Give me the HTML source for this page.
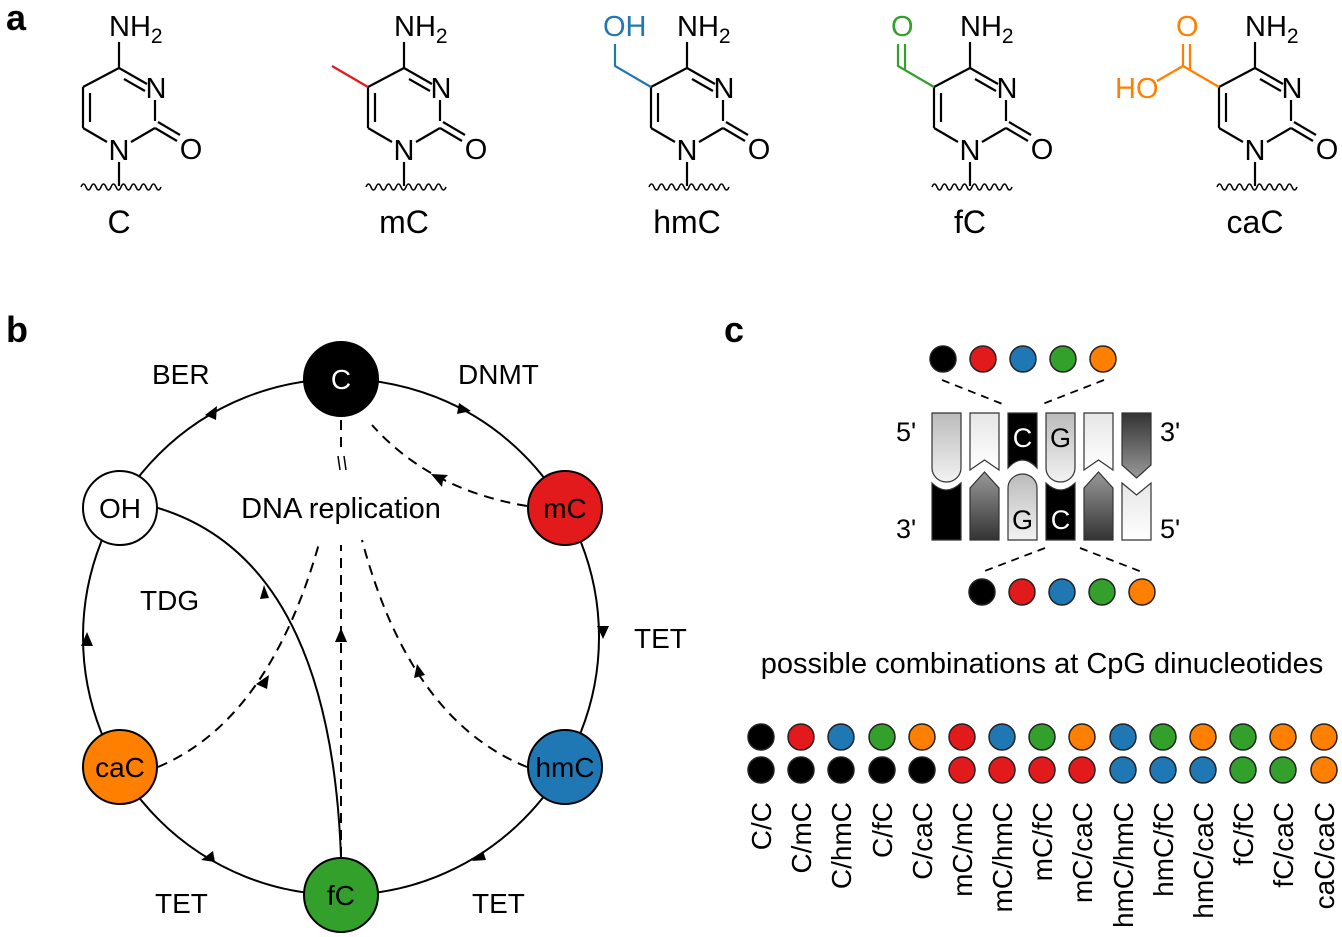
<!DOCTYPE html>
<html><head><meta charset="utf-8"><style>
html,body{margin:0;padding:0;background:#fff;}
svg{display:block;}
text{font-family:"Liberation Sans",Arial,sans-serif;}
</style></head><body>
<svg width="1342" height="937" viewBox="0 0 1342 937" xmlns="http://www.w3.org/2000/svg">
<defs>
<g id="ring" stroke="#000" stroke-width="2.2" fill="none">
  <line x1="0" y1="42" x2="0" y2="68"/>
  <line x1="0" y1="68" x2="28" y2="84"/>
  <line x1="5" y1="79" x2="26" y2="91"/>
  <line x1="36" y1="100" x2="36" y2="121"/>
  <line x1="36" y1="128" x2="58" y2="141"/>
  <line x1="39" y1="122" x2="61" y2="135"/>
  <line x1="36" y1="128" x2="12" y2="142"/>
  <line x1="-12" y1="142" x2="-36" y2="128"/>
  <line x1="-36" y1="128" x2="-36" y2="87"/>
  <line x1="-29" y1="122" x2="-29" y2="93"/>
  <line x1="-36" y1="87" x2="0" y2="68"/>
  <line x1="0" y1="162" x2="0" y2="186"/>
  <path d="M-38 187 q2.5 -6 5 0 q2.5 6 5 0 q2.5 -6 5 0 q2.5 6 5 0 q2.5 -6 5 0 q2.5 6 5 0 q2.5 -6 5 0 q2.5 6 5 0 q2.5 -6 5 0 q2.5 6 5 0 q2.5 -6 5 0 q2.5 6 5 0 q2.5 -6 5 0 q2.5 6 5 0 q2.5 -6 5 0 q2.5 6 5 0" stroke-width="1.6"/>
</g>
<g id="ringtext" font-size="29" fill="#000">
  <text x="-10" y="36">NH<tspan font-size="21" dy="7">2</tspan></text>
  <text x="37" y="98" text-anchor="middle">N</text>
  <text x="0" y="160" text-anchor="middle">N</text>
  <text x="72" y="159" text-anchor="middle">O</text>
</g>
<linearGradient id="gl" x1="0" y1="0" x2="0" y2="1"><stop offset="0" stop-color="#bbb"/><stop offset="1" stop-color="#f2f2f2"/></linearGradient>
<linearGradient id="gw" x1="0" y1="0" x2="0" y2="1"><stop offset="0" stop-color="#e6e6e6"/><stop offset="1" stop-color="#fff"/></linearGradient>
<linearGradient id="gd" x1="0" y1="0" x2="0" y2="1"><stop offset="0" stop-color="#999"/><stop offset="1" stop-color="#333"/></linearGradient>
<linearGradient id="gdt" x1="0" y1="0" x2="0" y2="1"><stop offset="0" stop-color="#333"/><stop offset="1" stop-color="#999"/></linearGradient>
</defs>

<!-- Panel a -->
<text x="6" y="30" font-size="36" font-weight="bold">a</text>
<g transform="translate(119,0)"><use href="#ring"/><use href="#ringtext"/><text x="0" y="233" font-size="32" text-anchor="middle">C</text></g>
<g transform="translate(404,0)"><use href="#ring"/><use href="#ringtext"/><text x="0" y="233" font-size="32" text-anchor="middle">mC</text>
  <line x1="-36" y1="87" x2="-72" y2="66" stroke="#e31a1c" stroke-width="2.2"/></g>
<g transform="translate(687,0)"><use href="#ring"/><use href="#ringtext"/><text x="0" y="233" font-size="32" text-anchor="middle">hmC</text>
  <path d="M-36 87 L-72 66 L-72 44" stroke="#1f78b4" stroke-width="2.2" fill="none"/>
  <text x="-84" y="36" font-size="29" fill="#1f78b4">OH</text></g>
<g transform="translate(970,0)"><use href="#ring"/><use href="#ringtext"/><text x="0" y="233" font-size="32" text-anchor="middle">fC</text>
  <path d="M-36 87 L-72 66 L-72 44 M-65 70 L-65 44" stroke="#33a02c" stroke-width="2.2" fill="none"/>
  <text x="-79" y="36" font-size="29" fill="#33a02c">O</text></g>
<g transform="translate(1255,0)"><use href="#ring"/><use href="#ringtext"/><text x="0" y="233" font-size="32" text-anchor="middle">caC</text>
  <path d="M-36 87 L-72 66 L-72 44 M-65 70 L-65 44 M-72 66 L-98 81" stroke="#ff7f00" stroke-width="2.2" fill="none"/>
  <text x="-79" y="36" font-size="29" fill="#ff7f00">O</text>
  <text x="-140" y="98" font-size="29" fill="#ff7f00">HO</text></g>

<!-- Panel b -->
<text x="6" y="342" font-size="36" font-weight="bold">b</text>
<circle cx="341" cy="637" r="258" fill="none" stroke="#000" stroke-width="2"/>
<g fill="#000">
<path d="M459 403 l12 8 l-14 3 z"/>
<path d="M597 626 l6 13 l6 -13 z"/>
<path d="M483 851 l-11 10 l14 -1 z"/>
<path d="M213 851 l-12 9 l14 2 z"/>
<path d="M81 646 l6 -14 l6 14 z"/>
<path d="M205 415 l12 -9 l-1 14 z"/>
</g>
<!-- dashed lines -->
<g stroke="#000" stroke-width="2" fill="none" stroke-dasharray="10,7">
<path d="M527 506 Q430 490 372 425"/>
<line x1="341" y1="420" x2="341" y2="452"/>
<path d="M158 767 Q270 720 320 540"/>
<line x1="341" y1="857" x2="341" y2="545"/>
<path d="M527 767 Q410 720 362 540"/>
</g>
<line x1="338" y1="456" x2="340" y2="470" stroke="#000" stroke-width="1.5"/>
<line x1="344" y1="456" x2="346" y2="470" stroke="#000" stroke-width="1.5"/>
<g fill="#000">
<path d="M431 474 L448 475 L443 480 L442 487 z"/>
<path d="M335 642 l6 -14 l6 14 z"/>
<path d="M256 684 l13 -9 l-2 14 z"/>
<path d="M414 678 l3 -14 l8 11 z"/>
<path d="M269 598 l-5 -13 l-4 14 z"/>
</g>
<path d="M158 508 Q330 560 341 857" stroke="#000" stroke-width="2" fill="none"/>
<text x="341" y="518" font-size="29" text-anchor="middle">DNA replication</text>
<g font-size="28">
<text x="152" y="384">BER</text>
<text x="458" y="384">DNMT</text>
<text x="634" y="648">TET</text>
<text x="472" y="913">TET</text>
<text x="155" y="913">TET</text>
<text x="140" y="610">TDG</text>
</g>
<g stroke="#000" stroke-width="2">
<circle cx="341" cy="379" r="37" fill="#000"/>
<circle cx="565" cy="508" r="37" fill="#e31a1c"/>
<circle cx="565" cy="767" r="37" fill="#1f78b4"/>
<circle cx="341" cy="895" r="37" fill="#33a02c"/>
<circle cx="120" cy="767" r="37" fill="#ff7f00"/>
<circle cx="120" cy="508" r="37" fill="#fff"/>
</g>
<g font-size="28" text-anchor="middle">
<text x="341" y="389" fill="#fff">C</text>
<text x="565" y="518">mC</text>
<text x="565" y="777">hmC</text>
<text x="341" y="905">fC</text>
<text x="120" y="777">caC</text>
<text x="120" y="518">OH</text>
</g>

<!-- Panel c -->
<text x="724" y="342" font-size="36" font-weight="bold">c</text>
<g stroke="#222" stroke-width="1.5">
<circle cx="943" cy="359" r="13" fill="#000"/>
<circle cx="983" cy="359" r="13" fill="#e31a1c"/>
<circle cx="1023" cy="359" r="13" fill="#1f78b4"/>
<circle cx="1063" cy="359" r="13" fill="#33a02c"/>
<circle cx="1103" cy="359" r="13" fill="#ff7f00"/>
<circle cx="982" cy="592" r="13" fill="#000"/>
<circle cx="1022" cy="592" r="13" fill="#e31a1c"/>
<circle cx="1062" cy="592" r="13" fill="#1f78b4"/>
<circle cx="1102" cy="592" r="13" fill="#33a02c"/>
<circle cx="1142" cy="592" r="13" fill="#ff7f00"/>
</g>
<g stroke="#000" stroke-width="1.8" stroke-dasharray="8,6">
<line x1="942" y1="380" x2="1005" y2="405"/>
<line x1="1104" y1="380" x2="1040" y2="405"/>
<line x1="1045" y1="548" x2="982" y2="572"/>
<line x1="1080" y1="548" x2="1142" y2="572"/>
</g>
<g stroke="#333" stroke-width="1.2">
<path d="M932 413 H961 V468 A14.5 14 0 0 1 932 468 Z" fill="url(#gl)"/>
<path d="M932 483 Q946 497 961 483 V540 H932 Z" fill="#000"/>
<path d="M970 413 H999 V470 L984.5 460 L970 470 Z" fill="url(#gw)"/>
<path d="M970 488 L984.5 472 L999 488 V540 H970 Z" fill="url(#gd)"/>
<path d="M1008 413 H1037 V468 Q1022.5 452 1008 468 Z" fill="#000"/>
<path d="M1008 488 A14.5 14 0 0 1 1037 488 V540 H1008 Z" fill="url(#gl)"/>
<path d="M1046 413 H1075 V468 A14.5 14 0 0 1 1046 468 Z" fill="url(#gl)"/>
<path d="M1046 483 Q1060.5 497 1075 483 V540 H1046 Z" fill="#000"/>
<path d="M1084 413 H1113 V470 L1098.5 460 L1084 470 Z" fill="url(#gw)"/>
<path d="M1084 488 L1098.5 472 L1113 488 V540 H1084 Z" fill="url(#gd)"/>
<path d="M1122 413 H1151 V465 L1136.5 478 L1122 465 Z" fill="url(#gdt)"/>
<path d="M1122 483 L1136.5 495 L1151 483 V540 H1122 Z" fill="url(#gw)"/>
</g>
<g font-size="27">
<text x="1022.5" y="447" fill="#fff" text-anchor="middle">C</text>
<text x="1060.5" y="447" text-anchor="middle">G</text>
<text x="1022.5" y="529" text-anchor="middle">G</text>
<text x="1060.5" y="529" fill="#fff" text-anchor="middle">C</text>
<text x="896" y="441">5'</text>
<text x="1160" y="441">3'</text>
<text x="896" y="538">3'</text>
<text x="1160" y="538">5'</text>
</g>
<text x="1042" y="673" font-size="29" text-anchor="middle">possible combinations at CpG dinucleotides</text>

<g stroke="#222" stroke-width="1.5">
<circle cx="761" cy="737" r="13" fill="#000"/><circle cx="761" cy="770" r="13" fill="#000"/>
<circle cx="801" cy="737" r="13" fill="#e31a1c"/><circle cx="801" cy="770" r="13" fill="#000"/>
<circle cx="841" cy="737" r="13" fill="#1f78b4"/><circle cx="841" cy="770" r="13" fill="#000"/>
<circle cx="882" cy="737" r="13" fill="#33a02c"/><circle cx="882" cy="770" r="13" fill="#000"/>
<circle cx="922" cy="737" r="13" fill="#ff7f00"/><circle cx="922" cy="770" r="13" fill="#000"/>
<circle cx="962" cy="737" r="13" fill="#e31a1c"/><circle cx="962" cy="770" r="13" fill="#e31a1c"/>
<circle cx="1002" cy="737" r="13" fill="#1f78b4"/><circle cx="1002" cy="770" r="13" fill="#e31a1c"/>
<circle cx="1042" cy="737" r="13" fill="#33a02c"/><circle cx="1042" cy="770" r="13" fill="#e31a1c"/>
<circle cx="1082" cy="737" r="13" fill="#ff7f00"/><circle cx="1082" cy="770" r="13" fill="#e31a1c"/>
<circle cx="1123" cy="737" r="13" fill="#1f78b4"/><circle cx="1123" cy="770" r="13" fill="#1f78b4"/>
<circle cx="1163" cy="737" r="13" fill="#33a02c"/><circle cx="1163" cy="770" r="13" fill="#1f78b4"/>
<circle cx="1203" cy="737" r="13" fill="#ff7f00"/><circle cx="1203" cy="770" r="13" fill="#1f78b4"/>
<circle cx="1243" cy="737" r="13" fill="#33a02c"/><circle cx="1243" cy="770" r="13" fill="#33a02c"/>
<circle cx="1283" cy="737" r="13" fill="#ff7f00"/><circle cx="1283" cy="770" r="13" fill="#33a02c"/>
<circle cx="1324" cy="737" r="13" fill="#ff7f00"/><circle cx="1324" cy="770" r="13" fill="#ff7f00"/>
</g>
<g font-size="28" text-anchor="end">
<text transform="translate(771,802) rotate(-90)">C/C</text>
<text transform="translate(811,802) rotate(-90)">C/mC</text>
<text transform="translate(851,802) rotate(-90)">C/hmC</text>
<text transform="translate(892,802) rotate(-90)">C/fC</text>
<text transform="translate(932,802) rotate(-90)">C/caC</text>
<text transform="translate(972,802) rotate(-90)">mC/mC</text>
<text transform="translate(1012,802) rotate(-90)">mC/hmC</text>
<text transform="translate(1052,802) rotate(-90)">mC/fC</text>
<text transform="translate(1092,802) rotate(-90)">mC/caC</text>
<text transform="translate(1133,802) rotate(-90)">hmC/hmC</text>
<text transform="translate(1173,802) rotate(-90)">hmC/fC</text>
<text transform="translate(1213,802) rotate(-90)">hmC/caC</text>
<text transform="translate(1253,802) rotate(-90)">fC/fC</text>
<text transform="translate(1293,802) rotate(-90)">fC/caC</text>
<text transform="translate(1334,802) rotate(-90)">caC/caC</text>
</g>
</svg>
</body></html>
